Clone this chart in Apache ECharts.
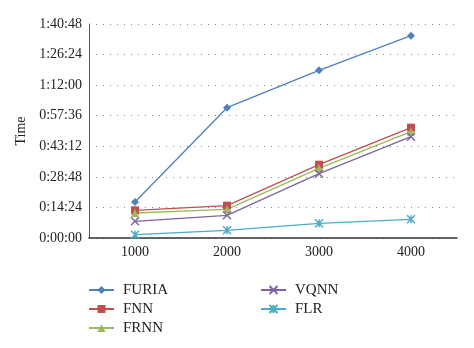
<!DOCTYPE html>
<html><head><meta charset="utf-8">
<script src="https://cdn.jsdelivr.net/npm/echarts@6/dist/echarts.min.js"></script>
<style>html,body{margin:0;padding:0;background:#fff}#c{width:474px;height:348px}</style>
</head><body><div id="c"></div>
<script>
// values in seconds
var categories = ['1000', '2000', '3000', '4000'];
var furia = [1017, 3683, 4739, 5718];
var fnn = [782, 914, 2072, 3118];
var frnn = [707, 811, 1969, 3005];
var vqnn = [472, 641, 1818, 2863];
var flr = [94, 217, 415, 528];
var yTicks = [0, 864, 1728, 2592, 3456, 4320, 5184, 6048];

function fmt(v) {
  var h = Math.floor(v / 3600), m = Math.floor((v % 3600) / 60), s = Math.round(v % 60);
  return h + ':' + (m < 10 ? '0' : '') + m + ':' + (s < 10 ? '0' : '') + s;
}
var font = 'Liberation Serif';
var xPath = 'path://M0,0L10,10M10,0L0,10';
var starPath = 'path://M0,0L10,10M10,0L0,10M5,0L5,10';
function mk(name, data, color, symbol, size, stroke) {
  return {
    name: name, type: 'line', data: data, symbol: symbol, symbolSize: size,
    lineStyle: {color: color, width: 1.3},
    itemStyle: {color: stroke ? 'rgba(0,0,0,0)' : color, borderColor: color, borderWidth: stroke ? 1.5 : 0},
    color: color
  };
}
var legendBase = {
  orient: 'vertical', top: 282, height: 66, padding: 0,
  itemWidth: 25, itemHeight: 10, itemGap: 3,
  textStyle: {fontFamily: font, fontSize: 15, color: '#222', lineHeight: 16, padding: [0, 0, 0, 4]}
};
var chart = echarts.init(document.getElementById('c'));
chart.setOption({
  animation: false,
  grid: {left: 89, right: 17, top: 24, bottom: 110},
  xAxis: {
    type: 'category', data: categories, boundaryGap: true,
    axisLine: {lineStyle: {color: '#333', width: 1.5}},
    axisTick: {show: false},
    axisLabel: {fontFamily: font, fontSize: 14, color: '#222', margin: 7}
  },
  yAxis: {
    type: 'value', min: yTicks[0], max: yTicks[yTicks.length - 1], interval: 864,
    name: 'Time', nameLocation: 'middle', nameGap: 58,
    nameTextStyle: {fontFamily: font, fontSize: 14, color: '#222'},
    axisLine: {show: true, lineStyle: {color: '#555', width: 1}},
    axisTick: {show: false},
    axisLabel: {fontFamily: font, fontSize: 14, color: '#222', formatter: fmt, margin: 7},
    splitLine: {lineStyle: {color: '#888', type: [1, 6], width: 1}}
  },
  legend: [
    Object.assign({data: ['FURIA', 'FNN', 'FRNN'], left: 88}, legendBase),
    Object.assign({data: ['VQNN', 'FLR'], left: 260}, legendBase)
  ],
  series: [
    mk('FURIA', furia, '#4F81BD', 'diamond', 8, false),
    mk('FNN', fnn, '#C0504D', 'rect', 8, false),
    mk('FRNN', frnn, '#9BBB59', 'triangle', 8, false),
    mk('VQNN', vqnn, '#8064A2', xPath, 8, true),
    mk('FLR', flr, '#4BACC6', starPath, 8, true)
  ]
});
</script></body></html>
